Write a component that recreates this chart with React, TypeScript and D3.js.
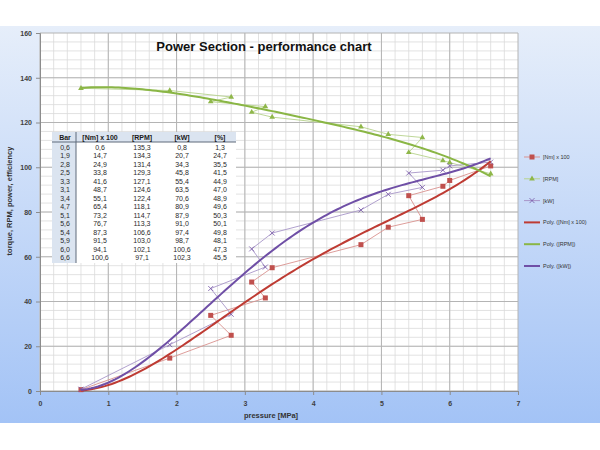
import React, { useEffect, useRef } from 'react';
import * as d3 from 'd3';

// measured table, one row per pressure step (in table order)
const pressure = [0.6, 1.9, 2.8, 2.5, 3.3, 3.1, 3.4, 4.7, 5.1, 5.6, 5.4, 5.9, 6.0, 6.6];
const torque = [0.6, 14.7, 24.9, 33.8, 41.6, 48.7, 55.1, 65.4, 73.2, 76.7, 87.3, 91.5, 94.1, 100.6];
const rpm = [135.3, 134.3, 131.4, 129.3, 127.1, 124.6, 122.4, 118.1, 114.7, 113.3, 106.6, 103.0, 102.1, 97.1];
const power = [0.8, 20.7, 34.3, 45.8, 55.4, 63.5, 70.6, 80.9, 87.9, 91.0, 97.4, 98.7, 100.6, 102.3];
const efficiency = [1.3, 24.7, 35.5, 41.5, 44.9, 47.0, 48.9, 49.6, 50.3, 50.1, 49.8, 48.1, 47.3, 45.5];

const tableHeaders = ['Bar', '[Nm] x 100', '[RPM]', '[kW]', '[%]'];
const seriesNames = ['[Nm] x 100', '[RPM]', '[kW]'];
const xTicks = [0, 1, 2, 3, 4, 5, 6, 7];
const yTicks = [0, 20, 40, 60, 80, 100, 120, 140, 160];
const trendOrder = 4;

// least squares polynomial, same as a spreadsheet "Poly." trendline
function polyFit(xs: number[], ys: number[], deg: number) {
  const n = deg + 1;
  const A = Array.from({ length: n }, () => new Array(n + 1).fill(0));
  for (let i = 0; i < n; i++) {
    for (let j = 0; j < n; j++) A[i][j] = d3.sum(xs, x => x ** (i + j));
    A[i][n] = d3.sum(xs, (x, k) => x ** i * ys[k]);
  }
  for (let c = 0; c < n; c++) {
    let p = c;
    for (let r = c + 1; r < n; r++) if (Math.abs(A[r][c]) > Math.abs(A[p][c])) p = r;
    [A[c], A[p]] = [A[p], A[c]];
    for (let r = 0; r < n; r++) {
      if (r === c) continue;
      const f = A[r][c] / A[c][c];
      for (let k = c; k <= n; k++) A[r][k] -= f * A[c][k];
    }
  }
  const coef = A.map((row, i) => row[n] / row[i]);
  return (x: number) => coef.reduce((s, a, i) => s + a * x ** i, 0);
}

const fmt = (v: number) => d3.format('.1f')(v).replace('.', ',');

const App: React.FC = () => {
  const svgRef = useRef<SVGSVGElement>(null);

  useEffect(() => {
    const totalWidth = 600;
    const totalHeight = 450;
    const plot = { left: 40, right: 518, top: 33, bottom: 391 };

    const root = d3.select(svgRef.current)
      .attr('width', totalWidth)
      .attr('height', totalHeight);
    root.selectAll('*').remove();

    const defs = root.append('defs');
    const grad = defs.append('linearGradient')
      .attr('id', 'bg').attr('x1', 0).attr('y1', 0).attr('x2', 0).attr('y2', 1);
    grad.append('stop').attr('offset', '0%').attr('stop-color', '#e6eefa');
    grad.append('stop').attr('offset', '100%').attr('stop-color', '#a3c3f6');

    root.append('rect')
      .attr('x', 0).attr('y', 26).attr('width', totalWidth).attr('height', 397)
      .attr('fill', 'url(#bg)');

    const x = d3.scaleLinear().domain([0, 7]).range([plot.left, plot.right]);
    const y = d3.scaleLinear().domain([0, 160]).range([plot.bottom, plot.top]);

    root.append('rect')
      .attr('x', plot.left).attr('y', plot.top)
      .attr('width', plot.right - plot.left).attr('height', plot.bottom - plot.top)
      .attr('fill', '#fff');

    // minor grid
    const grid = root.append('g');
    grid.selectAll('.vx')
      .data(d3.range(0, 35).map(i => i * 0.2))
      .enter().append('line')
      .attr('x1', d => x(d)).attr('x2', d => x(d))
      .attr('y1', plot.top).attr('y2', plot.bottom)
      .attr('stroke', '#dadada').attr('stroke-width', 0.8);
    grid.selectAll('.hy')
      .data(d3.range(0, 40).map(i => i * 4))
      .enter().append('line')
      .attr('y1', d => y(d)).attr('y2', d => y(d))
      .attr('x1', plot.left).attr('x2', plot.right)
      .attr('stroke', '#dadada').attr('stroke-width', 0.8);
    // major grid
    grid.selectAll('.mx')
      .data(xTicks)
      .enter().append('line')
      .attr('x1', d => x(d)).attr('x2', d => x(d))
      .attr('y1', plot.top).attr('y2', plot.bottom)
      .attr('stroke', '#b4b4b4').attr('stroke-width', 1);
    grid.selectAll('.my')
      .data(yTicks)
      .enter().append('line')
      .attr('y1', d => y(d)).attr('y2', d => y(d))
      .attr('x1', plot.left).attr('x2', plot.right)
      .attr('stroke', '#b4b4b4').attr('stroke-width', 1);

    // axes
    const xAxis = root.append('g')
      .attr('transform', `translate(0,${plot.bottom})`)
      .call(d3.axisBottom(x).tickValues(xTicks).tickSize(4).tickPadding(6).tickFormat(d3.format('d')) as any);
    const yAxis = root.append('g')
      .attr('transform', `translate(${plot.left},0)`)
      .call(d3.axisLeft(y).tickValues(yTicks).tickSize(4).tickPadding(4) as any);
    [xAxis, yAxis].forEach(g => {
      g.select('.domain').attr('stroke', '#8c8c8c');
      g.selectAll('.tick line').attr('stroke', '#8c8c8c');
      g.selectAll('.tick text')
        .attr('fill', '#404040')
        .style('font-family', 'Liberation Sans, Arial, sans-serif')
        .style('font-size', '7px')
        .style('font-weight', 'bold');
    });

    // data table drawn inside the plot
    const table = root.append('g');
    const tLeft = 52, tRight = 236, tTop = 132, rowH = 8.5, headH = 10;
    const colX = [65, 100, 142, 182, 220];
    const rowsTop = tTop + headH;
    const tBottom = rowsTop + rowH * pressure.length + 2;
    table.append('rect')
      .attr('x', tLeft).attr('y', tTop).attr('width', tRight - tLeft).attr('height', tBottom - tTop)
      .attr('fill', '#fff');
    table.append('rect')
      .attr('x', tLeft).attr('y', tTop).attr('width', tRight - tLeft).attr('height', headH)
      .attr('fill', '#dbe4f0');
    table.append('rect')
      .attr('x', tLeft).attr('y', tTop).attr('width', 24).attr('height', tBottom - tTop)
      .attr('fill', '#dbe4f0');
    table.append('line')
      .attr('x1', tLeft).attr('x2', tRight).attr('y1', rowsTop).attr('y2', rowsTop)
      .attr('stroke', '#5f6b7a').attr('stroke-width', 1);
    table.append('line')
      .attr('x1', tLeft + 24).attr('x2', tLeft + 24).attr('y1', tTop).attr('y2', tBottom)
      .attr('stroke', '#5f6b7a').attr('stroke-width', 1);
    table.selectAll('.head')
      .data(tableHeaders)
      .enter().append('text')
      .attr('x', (d, i) => colX[i]).attr('y', tTop + 7.5)
      .attr('text-anchor', 'middle')
      .style('font-family', 'Liberation Sans, Arial, sans-serif')
      .style('font-size', '7px').style('font-weight', 'bold')
      .attr('fill', '#1a1a1a')
      .text(d => d);
    const columns = [pressure, torque, rpm, power, efficiency];
    columns.forEach((col, c) => {
      table.selectAll(`.c${c}`)
        .data(col)
        .enter().append('text')
        .attr('x', colX[c]).attr('y', (d, i) => rowsTop + rowH * (i + 1) - 1)
        .attr('text-anchor', 'middle')
        .style('font-family', 'Liberation Sans, Arial, sans-serif')
        .style('font-size', '7px')
        .attr('fill', '#2a2a2a')
        .text(d => fmt(d));
    });

    // measured series, joined in table order
    const series = [
      { name: seriesNames[0], values: torque, color: '#c0504d', trend: '#be3b33', light: '#d9928f', marker: 'square' },
      { name: seriesNames[1], values: rpm, color: '#8fb74a', trend: '#8ab645', light: '#b7d38c', marker: 'triangle' },
      { name: seriesNames[2], values: power, color: '#7556a6', trend: '#6f4fa6', light: '#a896c8', marker: 'cross' },
    ];

    const drawMarker = (g: any, kind: string, cx: number, cy: number, color: string) => {
      if (kind === 'square') {
        g.append('rect').attr('x', cx - 2.5).attr('y', cy - 2.5).attr('width', 5).attr('height', 5).attr('fill', color);
      } else if (kind === 'triangle') {
        const sym = d3.symbol().type(d3.symbolTriangle).size(14);
        g.append('path').attr('d', sym()).attr('transform', `translate(${cx},${cy})`).attr('fill', color);
      } else {
        g.append('path')
          .attr('d', `M${cx - 2.5},${cy - 2.5}L${cx + 2.5},${cy + 2.5}M${cx - 2.5},${cy + 2.5}L${cx + 2.5},${cy - 2.5}`)
          .attr('stroke', color).attr('stroke-width', 0.8);
      }
    };

    const line = d3.line<[number, number]>().x(d => x(d[0])).y(d => y(d[1]));
    const marks = root.append('g');
    series.forEach(s => {
      const pts = pressure.map((p, i) => [p, s.values[i]] as [number, number]);
      marks.append('path')
        .attr('d', line(pts))
        .attr('fill', 'none')
        .attr('stroke', s.light)
        .attr('stroke-width', 0.9);
      pts.forEach(p => drawMarker(marks, s.marker, x(p[0]), y(p[1]), s.color));
    });

    // trendlines over the measured pressure range
    const [xMin, xMax] = d3.extent(pressure) as [number, number];
    const fitX = d3.range(xMin, xMax + 1e-6, 0.05);
    series.forEach(s => {
      const f = polyFit(pressure, s.values, trendOrder);
      marks.append('path')
        .attr('d', line(fitX.map(v => [v, f(v)] as [number, number])))
        .attr('fill', 'none')
        .attr('stroke', s.trend)
        .attr('stroke-width', 2);
    });

    // title and axis labels
    root.append('text')
      .attr('x', 264).attr('y', 51)
      .attr('text-anchor', 'middle')
      .style('font-family', 'Liberation Sans, Arial, sans-serif')
      .style('font-size', '13px').style('font-weight', 'bold')
      .attr('fill', '#111')
      .text('Power Section - performance chart');
    root.append('text')
      .attr('x', 271).attr('y', 418)
      .attr('text-anchor', 'middle')
      .style('font-family', 'Liberation Sans, Arial, sans-serif')
      .style('font-size', '7.5px').style('font-weight', 'bold')
      .attr('fill', '#333')
      .text('pressure [MPa]');
    root.append('text')
      .attr('transform', 'translate(12,201) rotate(-90)')
      .attr('text-anchor', 'middle')
      .style('font-family', 'Liberation Sans, Arial, sans-serif')
      .style('font-size', '7.5px').style('font-weight', 'bold')
      .attr('fill', '#333')
      .text('torque, RPM, power, efficiency');

    // legend
    const legendItems = [
      ...series.map(s => ({ label: s.name, color: s.light, mark: s.marker, markColor: s.color, width: 1 })),
      ...series.map(s => ({ label: `Poly. (${s.name})`, color: s.trend, mark: '', markColor: s.color, width: 2 })),
    ];
    const legend = root.append('g');
    legendItems.forEach((it, i) => {
      const ly = 157 + i * 21.8;
      legend.append('line')
        .attr('x1', 524).attr('x2', 540).attr('y1', ly).attr('y2', ly)
        .attr('stroke', it.color).attr('stroke-width', it.width);
      if (it.mark) drawMarker(legend, it.mark, 532, ly, it.markColor);
      legend.append('text')
        .attr('x', 543).attr('y', ly + 2)
        .style('font-family', 'Liberation Sans, Arial, sans-serif')
        .style('font-size', '5.5px')
        .attr('fill', '#333')
        .text(it.label);
    });
  }, []);

  return (
    <svg ref={svgRef} style={{ position: 'absolute', left: 0, top: 0 }}></svg>
  );
};

export default App;
